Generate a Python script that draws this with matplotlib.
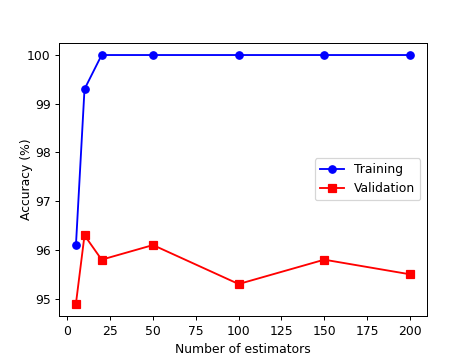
import matplotlib
matplotlib.use("Agg")
import matplotlib.pyplot as plt

n_estimators = [5, 10, 20, 50, 100, 150, 200]
train_acc = [96.1, 99.3, 100.0, 100.0, 100.0, 100.0, 100.0]
val_acc = [94.9, 96.3, 95.8, 96.1, 95.3, 95.8, 95.5]

fig, ax = plt.subplots(figsize=(474 / 89, 355 / 89), dpi=89)
ax.plot(n_estimators, train_acc, color="blue", marker="o", label="Training")
ax.plot(n_estimators, val_acc, color="red", marker="s", label="Validation")
ax.set_xlabel("Number of estimators")
ax.set_ylabel("Accuracy (%)", labelpad=-4.5)
ax.legend(loc="center right")

fig.savefig("out.png", dpi=89)
